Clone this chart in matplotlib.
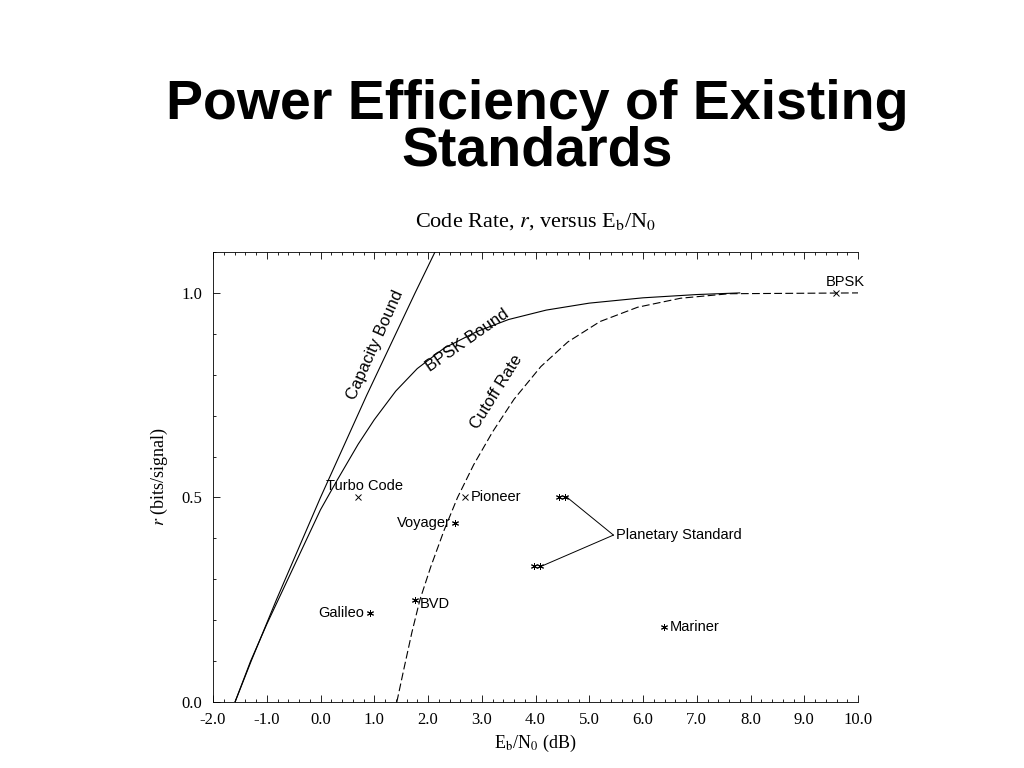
import matplotlib
matplotlib.use("Agg")
import matplotlib.pyplot as plt
from matplotlib.ticker import MultipleLocator

plt.rcParams["mathtext.fontset"] = "stix"

cap_x = [-1.59, -1.29, -0.82, 0.0, 0.86, 1.76, 2.13]
cap_y = [0.0, 0.1, 0.25, 0.5, 0.75, 1.0, 1.1]
bpsk_x = [-1.59, -1.3, -1.0, -0.5, 0.0, 0.3, 0.7, 1.0, 1.4, 1.8, 2.3, 2.9, 3.5, 4.2, 5.0, 6.0, 7.0, 7.8]
bpsk_y = [0.0, 0.1, 0.19, 0.33, 0.47, 0.54, 0.63, 0.69, 0.76, 0.815, 0.865, 0.905, 0.935, 0.958, 0.975, 0.988, 0.996, 1.0]
cut_x = [1.42, 1.55, 1.7, 1.85, 2.05, 2.3, 2.55, 2.85, 3.2, 3.6, 4.1, 4.6, 5.2, 5.9, 6.7, 7.6, 10.0]
cut_y = [0.0, 0.08, 0.17, 0.25, 0.33, 0.42, 0.5, 0.58, 0.66, 0.74, 0.82, 0.88, 0.93, 0.965, 0.987, 0.998, 1.0]

codes = ["Turbo Code", "Pioneer", "Voyager", "BVD", "Galileo", "Mariner", "BPSK"]
code_x = [0.70, 2.69, 2.50, 1.76, 0.92, 6.39, 9.59]
code_y = [0.50, 0.50, 0.438, 0.249, 0.218, 0.183, 1.0]
code_mk = ["x", "x", "ast", "ast", "ast", "ast", "x"]
plan_x = [4.49, 4.03]
plan_y = [0.50, 0.333]

AST = (6, 2, 0)

fig = plt.figure(figsize=(10.24, 7.68), dpi=100)
ax = fig.add_axes([213/1024, 1-702/768, 645/1024, 450/768])
ax.set_xlim(-2, 10)
ax.set_ylim(0, 1.1)
ax.plot(cap_x, cap_y, color="black", lw=0.8)
ax.plot(bpsk_x, bpsk_y, color="black", lw=0.8)
ax.plot(cut_x, cut_y, color="black", lw=0.8, dashes=(7, 3))

for n, x, y, m in zip(codes, code_x, code_y, code_mk):
    ax.plot(x, y, marker=AST if m == "ast" else "x", color="black", ms=5, mew=0.7)
sans = dict(family="Liberation Sans", fontsize=10.5)
ax.text(0.1, 0.51, "Turbo Code", ha="left", va="bottom", **sans)
ax.text(2.79, 0.5, "Pioneer", ha="left", va="center", **sans)
ax.text(2.42, 0.438, "Voyager", ha="right", va="center", **sans)
ax.text(1.84, 0.24, "BVD", ha="left", va="center", **sans)
ax.text(0.82, 0.218, "Galileo", ha="right", va="center", **sans)
ax.text(6.5, 0.183, "Mariner", ha="left", va="center", **sans)
ax.text(9.4, 1.01, "BPSK", ha="left", va="bottom", **sans)
for x, y in zip(plan_x, plan_y):
    ax.plot([x - 0.05, x + 0.05], [y, y], ls="none", marker=AST, color="black", ms=5, mew=0.7)
    ax.plot([5.45, x + 0.1], [0.408, y], color="black", lw=0.7)
ax.text(5.5, 0.408, "Planetary Standard", ha="left", va="center", **sans)

big = dict(family="Liberation Sans", fontsize=12)
ax.text(1.01, 0.873, "Capacity Bound", rotation=66, ha="center", va="center", **big)
ax.text(2.74, 0.885, "BPSK Bound", rotation=35, ha="center", va="center", **big)
ax.text(3.28, 0.758, "Cutoff Rate", rotation=58, ha="center", va="center", **big)

serif = "Liberation Serif"
ax.set_xticks([-2, -1, 0, 1, 2, 3, 4, 5, 6, 7, 8, 9, 10])
ax.set_xticklabels(["-2.0", "-1.0", "0.0", "1.0", "2.0", "3.0", "4.0", "5.0", "6.0", "7.0", "8.0", "9.0", "10.0"],
                   family=serif, fontsize=12)
ax.set_yticks([0, 0.5, 1.0])
ax.set_yticklabels(["0.0", "0.5", "1.0"], family=serif, fontsize=12)
ax.xaxis.set_minor_locator(MultipleLocator(0.2))
ax.yaxis.set_minor_locator(MultipleLocator(0.1))
ax.tick_params(which="both", direction="in", top=True, right=False, width=0.6)
ax.tick_params(which="major", length=5)
ax.tick_params(which="minor", length=2.5)
ax.tick_params(axis="x", pad=7)
ax.tick_params(axis="y", pad=8)
ax.spines["right"].set_visible(False)
for s in ["left", "top", "bottom"]:
    ax.spines[s].set_linewidth(0.6)
ax.set_xlabel(r"E$_\mathrm{b}$/N$_0$ (dB)", family=serif, fontsize=13, labelpad=4)
ax.set_ylabel(r"$r$ (bits/signal)", family=serif, fontsize=13, labelpad=8)
ax.set_title(r"Code Rate, $r$, versus E$_\mathrm{b}$/N$_0$", family=serif, fontsize=16, pad=18)

fig.text(537/1024, 1-128/768, "Power Efficiency of Existing\nStandards", ha="center", va="center",
         family="Liberation Sans", fontweight="bold", fontsize=40, linespacing=0.85)
fig.savefig("out.png")
